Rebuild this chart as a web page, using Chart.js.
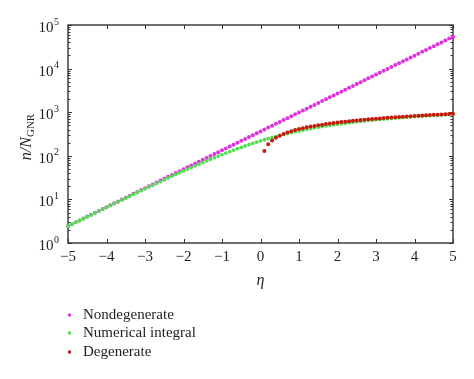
<!DOCTYPE html>
<html><head><meta charset="utf-8">
<script src="https://cdn.jsdelivr.net/npm/chart.js@4.4.0/dist/chart.umd.min.js"></script>
<style>html,body{margin:0;padding:0;background:#fff;}#wrap{width:474px;height:379px;}</style>
</head><body><div id="wrap"><canvas id="c" width="474" height="379"></canvas></div>
<script>
const eta = [-5.0,-4.9,-4.8,-4.7,-4.6,-4.5,-4.4,-4.3,-4.2,-4.1,-4.0,-3.9,-3.8,-3.7,-3.6,-3.5,-3.4,-3.3,-3.2,-3.1,-3.0,-2.9,-2.8,-2.7,-2.6,-2.5,-2.4,-2.3,-2.2,-2.1,-2.0,-1.9,-1.8,-1.7,-1.6,-1.5,-1.4,-1.3,-1.2,-1.1,-1.0,-0.9,-0.8,-0.7,-0.6,-0.5,-0.4,-0.3,-0.2,-0.1,0.0,0.1,0.2,0.3,0.4,0.5,0.6,0.7,0.8,0.9,1.0,1.1,1.2,1.3,1.4,1.5,1.6,1.7,1.8,1.9,2.0,2.1,2.2,2.3,2.4,2.5,2.6,2.7,2.8,2.9,3.0,3.1,3.2,3.3,3.4,3.5,3.6,3.7,3.8,3.9,4.0,4.1,4.2,4.3,4.4,4.5,4.6,4.7,4.8,4.9,5.0];
const nondegenerate = [2.446,2.703,2.987,3.302,3.649,4.033,4.457,4.925,5.443,6.016,6.649,7.348,8.121,8.975,9.918,10.96,12.11,13.39,14.80,16.35,18.07,19.97,22.07,24.40,26.96,29.80,32.93,36.39,40.22,44.45,49.13,54.29,60.00,66.31,73.29,81.00,89.51,98.93,109.3,120.8,133.5,147.6,163.1,180.3,199.2,220.2,243.3,268.9,297.2,328.5,363.0,401.2,443.4,490.0,541.5,598.5,661.4,731.0,807.9,892.8,986.7,1091,1205,1332,1472,1627,1798,1987,2196,2427,2682,2964,3276,3621,4001,4422,4887,5401,5969,6597,7291,8058,8905,9842,10877,12021,13285,14682,16226,17933,19819,21904,24207,26753,29567,32676,36113,39911,44108,48747,53874];
const numericalIntegral = [2.434,2.689,2.970,3.281,3.623,4.002,4.419,4.878,5.386,5.946,6.564,7.245,7.995,8.821,9.731,10.73,11.83,13.05,14.39,15.85,17.46,19.23,21.17,23.30,25.62,28.18,30.96,34.01,37.33,40.95,44.89,49.17,53.82,58.85,64.30,70.17,76.49,83.30,90.60,98.40,106.7,115.6,125.0,135.0,145.5,156.5,168.1,180.3,192.9,206.0,219.6,233.6,248.0,262.8,277.8,293.2,308.8,324.6,340.6,356.7,372.8,389.0,405.2,421.3,437.5,453.5,469.4,485.2,500.8,516.2,531.5,546.6,561.5,576.1,590.6,604.9,618.9,632.7,646.3,659.7,672.8,685.8,698.5,711.1,723.5,735.7,747.6,759.5,771.1,782.5,793.8,804.9,815.8,826.6,837.2,847.6,857.9,868.0,878.0,887.8,897.6];
const degenerateEta = eta.slice(51);
const degenerate = [129.5,183.2,224.4,259.1,289.6,317.3,342.7,366.4,388.6,409.6,429.6,448.7,467.0,484.7,501.7,518.1,534.1,549.5,564.6,579.3,593.6,607.5,621.2,634.6,647.6,660.5,673.1,685.4,697.5,709.5,721.2,732.7,744.1,755.3,766.3,777.2,787.9,798.5,808.9,819.2,829.4,839.4,849.4,859.2,868.9,878.5,888.0,897.4,906.7,915.9];
const xTickValues = [-5,-4,-3,-2,-1,0,1,2,3,4,5];
const xTickLabels = ['\u22125','\u22124','\u22123','\u22122','\u22121','0','1','2','3','4','5'];
const yDecadeExponents = [0,1,2,3,4,5];
const seriesNames = ['Nondegenerate','Numerical integral','Degenerate'];
const seriesColors = ['#e030e0','#50e050','#c41a0c'];

const SERIF = '"Liberation Serif","Times New Roman",serif';

const decor = {
  id: 'decor',
  beforeDatasetsDraw(chart) {
    const ctx = chart.ctx, a = chart.chartArea;
    const xs = chart.scales.x, ys = chart.scales.y;
    ctx.save();
    ctx.strokeStyle = '#333';
    ctx.lineWidth = 1.4;
    ctx.strokeRect(a.left, a.top, a.right - a.left, a.bottom - a.top);
    ctx.lineWidth = 1;
    ctx.beginPath();
    xTickValues.forEach(v => {
      const px = Math.round(xs.getPixelForValue(v)) + 0.5;
      ctx.moveTo(px, a.bottom); ctx.lineTo(px, a.bottom - 4);
      ctx.moveTo(px, a.top); ctx.lineTo(px, a.top + 4);
    });
    yDecadeExponents.forEach(e => {
      const py = Math.round(ys.getPixelForValue(Math.pow(10, e))) + 0.5;
      ctx.moveTo(a.left, py); ctx.lineTo(a.left + 4, py);
      ctx.moveTo(a.right, py); ctx.lineTo(a.right - 4, py);
      if (e < 5) {
        for (let m = 2; m <= 9; m++) {
          const q = Math.round(ys.getPixelForValue(m * Math.pow(10, e))) + 0.5;
          ctx.moveTo(a.left, q); ctx.lineTo(a.left + 2.5, q);
          ctx.moveTo(a.right, q); ctx.lineTo(a.right - 2.5, q);
        }
      }
    });
    ctx.stroke();
    ctx.restore();
  },
  afterDraw(chart) {
    const ctx = chart.ctx, a = chart.chartArea;
    const xs = chart.scales.x, ys = chart.scales.y;
    ctx.save();
    ctx.fillStyle = '#1e1e1e';
    ctx.font = '15px ' + SERIF;
    ctx.textAlign = 'center';
    ctx.textBaseline = 'middle';
    xTickValues.forEach((v, i) => {
      ctx.fillText(xTickLabels[i], xs.getPixelForValue(v), 257);
    });
    yDecadeExponents.forEach(e => {
      const py = ys.getPixelForValue(Math.pow(10, e));
      ctx.font = '15px ' + SERIF;
      ctx.textAlign = 'right';
      ctx.textBaseline = 'middle';
      ctx.fillText('10', 53.5, py + 3);
      ctx.font = '10px ' + SERIF;
      ctx.textAlign = 'left';
      ctx.fillText(String(e), 54, py - 3);
    });
    ctx.font = 'italic 16px ' + SERIF;
    ctx.textAlign = 'center';
    ctx.textBaseline = 'middle';
    ctx.fillText('\u03b7', (a.left + a.right) / 2, 281);
    ctx.save();
    ctx.translate(31, 137);
    ctx.rotate(-Math.PI / 2);
    ctx.textBaseline = 'alphabetic';
    ctx.textAlign = 'left';
    const f1 = 'italic 16px ' + SERIF, f2 = '11px ' + SERIF;
    ctx.font = f1; const w1 = ctx.measureText('n/N').width;
    ctx.font = f2; const w2 = ctx.measureText('GNR').width;
    const x0 = -(w1 + w2) / 2;
    ctx.font = f1; ctx.fillText('n/N', x0, 0);
    ctx.font = f2; ctx.fillText('GNR', x0 + w1, 3);
    ctx.restore();
    const rows = [315, 333, 352];
    seriesNames.forEach((name, i) => {
      ctx.fillStyle = seriesColors[i];
      ctx.beginPath(); ctx.arc(69.5, rows[i], 1.7, 0, Math.PI * 2); ctx.fill();
      ctx.fillStyle = '#1e1e1e';
      ctx.font = '15px ' + SERIF;
      ctx.textAlign = 'left';
      ctx.textBaseline = 'middle';
      ctx.fillText(name, 83, rows[i]);
    });
    ctx.restore();
  }
};

new Chart(document.getElementById('c'), {
  type: 'scatter',
  data: {
    datasets: [
      { label: seriesNames[2], data: degenerateEta.map((x, i) => ({ x, y: degenerate[i] })),
        backgroundColor: seriesColors[2], pointRadius: 2, pointBorderWidth: 0, order: 1, clip: false },
      { label: seriesNames[1], data: eta.map((x, i) => ({ x, y: numericalIntegral[i] })),
        backgroundColor: seriesColors[1], pointRadius: 1.9, pointBorderWidth: 0, order: 2, clip: false },
      { label: seriesNames[0], data: eta.map((x, i) => ({ x, y: nondegenerate[i] })),
        backgroundColor: seriesColors[0], pointRadius: 2, pointBorderWidth: 0, order: 3, clip: false }
    ]
  },
  options: {
    responsive: false,
    animation: false,
    devicePixelRatio: 1,
    layout: { padding: { left: 68, right: 21, top: 25, bottom: 136 } },
    plugins: { legend: { display: false }, tooltip: { enabled: false } },
    scales: {
      x: { type: 'linear', min: -5, max: 5, display: false },
      y: { type: 'logarithmic', min: 1, max: 100000, display: false }
    }
  },
  plugins: [decor]
});
</script>
</body></html>
